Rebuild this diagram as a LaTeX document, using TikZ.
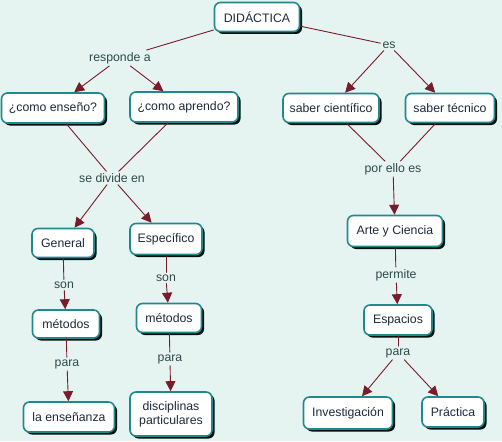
\documentclass[tikz,border=0pt]{standalone}
\usepackage{fontspec}
\setmainfont{Liberation Sans}
\usetikzlibrary{arrows.meta,shadows}
\definecolor{fondo}{HTML}{E6F4F1}
\definecolor{borde}{HTML}{1F8A8C}
\definecolor{vino}{HTML}{7A1B2C}
\definecolor{letra}{HTML}{1E2A3A}
\definecolor{letrarot}{HTML}{2E4A4A}
\begin{document}
\begin{tikzpicture}[x=1pt,y=-1pt, font=\fontsize{12.3}{14}\selectfont, line join=round, line cap=round,
	concepto/.style={draw=borde, line width=1.6pt, fill=white, rounded corners=6pt, text=letra,
		align=center, inner sep=0pt,
		drop shadow={shadow xshift=2.5pt, shadow yshift=-2.5pt, fill=black!90!borde, opacity=1}},
	rotulo/.style={text=letrarot, inner sep=2pt},
	linea/.style={draw=vino, line width=0.9pt},
	flecha/.style={linea, -{Triangle[length=10pt,width=10pt]}}]
	% fondo
	\fill[fondo] (0,0) rectangle (502,441);
	\useasboundingbox (0,0) rectangle (502,441);
	% conceptos
	\node[concepto, minimum width=85pt, minimum height=29pt] (did) at (257,17) {DIDÁCTICA};
	\node[concepto, minimum width=103pt, minimum height=30pt] (ensenio) at (53,108) {¿como enseño?};
	\node[concepto, minimum width=108pt, minimum height=30pt] (aprendo) at (184,107) {¿como aprendo?};
	\node[concepto, minimum width=96pt, minimum height=29pt] (cientifico) at (331,108) {saber científico};
	\node[concepto, minimum width=89pt, minimum height=29pt] (tecnico) at (450,108) {saber técnico};
	\node[concepto, minimum width=62pt, minimum height=29pt] (general) at (63,243) {General};
	\node[concepto, minimum width=72pt, minimum height=31pt] (especifico) at (166,239) {Específico};
	\node[concepto, minimum width=67pt, minimum height=28pt] (metodosA) at (66,324) {métodos};
	\node[concepto, minimum width=65pt, minimum height=29pt] (metodosB) at (169,318) {métodos};
	\node[concepto, minimum width=91pt, minimum height=30pt] (ensenianza) at (69,417) {la enseñanza};
	\node[concepto, minimum width=82pt, minimum height=44pt] (disciplinas) at (171,414) {disciplinas\\particulares};
	\node[concepto, minimum width=95pt, minimum height=31pt] (arte) at (395,231) {Arte y Ciencia};
	\node[concepto, minimum width=68pt, minimum height=30pt] (espacios) at (398,320) {Espacios};
	\node[concepto, minimum width=89pt, minimum height=32pt] (investigacion) at (348,413) {Investigación};
	\node[concepto, minimum width=62pt, minimum height=30pt] (practica) at (453,412) {Práctica};
	% frases de enlace
	\node[rotulo] (responde) at (120,58) {responde a};
	\node[rotulo] (es) at (389,45) {es};
	\node[rotulo] (divide) at (112,178) {se divide en};
	\node[rotulo] (sonA) at (64,285) {son};
	\node[rotulo] (sonB) at (166,278) {son};
	\node[rotulo] (paraA) at (67,364) {para};
	\node[rotulo] (paraB) at (170,359) {para};
	\node[rotulo] (porello) at (393,169) {por ello es};
	\node[rotulo] (permite) at (396,275) {permite};
	\node[rotulo] (paraC) at (398,353) {para};
	% conexiones
	\draw[linea] (did) -- (responde);
	\draw[flecha] (responde) -- (ensenio);
	\draw[flecha] (responde) -- (aprendo);
	\draw[linea] (did) -- (es);
	\draw[flecha] (es) -- (cientifico);
	\draw[flecha] (es) -- (tecnico);
	\draw[linea] (ensenio) -- (divide);
	\draw[linea] (aprendo) -- (divide);
	\draw[flecha] (divide) -- (general);
	\draw[flecha] (divide) -- (especifico);
	\draw[linea] (general) -- (sonA);
	\draw[flecha] (sonA) -- (metodosA);
	\draw[linea] (metodosA) -- (paraA);
	\draw[flecha] (paraA) -- (ensenianza);
	\draw[linea] (especifico) -- (sonB);
	\draw[flecha] (sonB) -- (metodosB);
	\draw[linea] (metodosB) -- (paraB);
	\draw[flecha] (paraB) -- (disciplinas);
	\draw[linea] (cientifico) -- (porello);
	\draw[linea] (tecnico) -- (porello);
	\draw[flecha] (porello) -- (arte);
	\draw[linea] (arte) -- (permite);
	\draw[flecha] (permite) -- (espacios);
	\draw[linea] (espacios) -- (paraC);
	\draw[flecha] (paraC) -- (investigacion);
	\draw[flecha] (paraC) -- (practica);
\end{tikzpicture}
\end{document}
